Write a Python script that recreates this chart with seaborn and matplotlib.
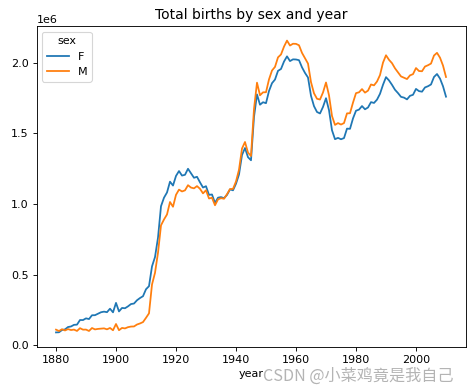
import pandas as pd
import matplotlib.pyplot as plt
import seaborn as sns

# Total births by sex, 1880-2010
years = list(range(1880, 2011))

births_f = [
    90993, 91955, 107851, 112322, 129021, 133056, 144538, 145983, 178631, 178369,
    190377, 185486, 212350, 212908, 222923, 233632, 237924, 234199, 258771, 233022,
    299873, 239351, 264079, 261976, 275375, 291641, 295301, 318558, 334277, 347191,
    396416, 418180, 557939, 624317, 761376, 983824, 1044249, 1081194, 1157585, 1130149,
    1198214, 1232845, 1200796, 1206239, 1248821, 1217217, 1185078, 1192207, 1152836, 1116284,
    1125521, 1064233, 1066930, 1007523, 1044249, 1048395, 1040834, 1063770, 1103157, 1096375,
    1143199, 1208356, 1346291, 1395947, 1330617, 1309023, 1615519, 1774848, 1702018, 1719733,
    1713063, 1799124, 1854440, 1880225, 1941743, 1955149, 2007519, 2044160, 2010884, 2023078,
    2022121, 2017316, 1966719, 1927149, 1894705, 1765239, 1691921, 1650583, 1640290, 1686569,
    1748262, 1663458, 1521269, 1458287, 1467465, 1457818, 1465969, 1532903, 1531592, 1605133,
    1659689, 1667424, 1692646, 1669717, 1682497, 1720385, 1714617, 1737960, 1779373, 1843057,
    1897256, 1874110, 1842818, 1807795, 1784440, 1757927, 1752323, 1739932, 1765139, 1772218,
    1813960, 1798284, 1794358, 1824406, 1833005, 1845379, 1898463, 1919408, 1887234, 1832925,
    1759010,
]

births_m = [
    110493, 100748, 113687, 104632, 114445, 107802, 110785, 101412, 120857, 110590,
    111026, 101198, 122038, 112319, 115775, 117398, 119575, 112760, 122416, 106218,
    150554, 106478, 122660, 119240, 128129, 132319, 133159, 146838, 154339, 163983,
    194198, 225936, 429926, 512482, 654746, 848647, 890142, 925512, 1013720, 980215,
    1064468, 1101374, 1088380, 1096227, 1132671, 1115798, 1110440, 1126259, 1107113, 1074833,
    1096663, 1038586, 1043625, 990677, 1031962, 1040892, 1036660, 1068967, 1105282, 1106664,
    1158888, 1242148, 1392125, 1438416, 1362897, 1339432, 1672026, 1858112, 1768998, 1789734,
    1790549, 1881155, 1944137, 1969809, 2037198, 2057716, 2113048, 2155871, 2120907, 2133527,
    2132700, 2122815, 2068972, 2031618, 1993188, 1861672, 1783064, 1744137, 1738839, 1788624,
    1859405, 1768637, 1622238, 1559285, 1572245, 1561901, 1572143, 1640929, 1641830, 1717018,
    1784003, 1789963, 1812700, 1787620, 1801780, 1845384, 1839167, 1866178, 1912048, 1999919,
    2052070, 2019818, 1996174, 1959724, 1931150, 1902453, 1892880, 1883723, 1909750, 1918465,
    1961702, 1940498, 1938941, 1972439, 1981557, 1993285, 2050234, 2069242, 2035075, 1979303,
    1898382,
]

df = pd.DataFrame({
    'year': years * 2,
    'births': births_f + births_m,
    'sex': ['F'] * len(years) + ['M'] * len(years),
})

DPI = 80
fig = plt.figure(figsize=(474 / DPI, 392 / DPI), dpi=DPI)
ax = fig.add_axes([36.5 / 474, 1 - 347 / 392, 429 / 474, 321 / 392])

sns.lineplot(data=df, x='year', y='births', hue='sex', palette=['#1f77b4', '#ff7f0e'],
             linewidth=1.6, ax=ax)
ax.set_title('Total births by sex and year', fontsize=12.5)
ax.set_xlabel('year')
ax.set_ylabel('')
ax.legend(title='sex', loc='upper left')

# watermark
fig.text(263 / 474, 1 - 376 / 392, 'CSDN @小菜鸡竟是我自己', color='#b4b4b4', fontsize=14.5,
         va='center', ha='left', family=['Noto Sans CJK SC', 'DejaVu Sans'])

fig.savefig('out.png', dpi=DPI)
